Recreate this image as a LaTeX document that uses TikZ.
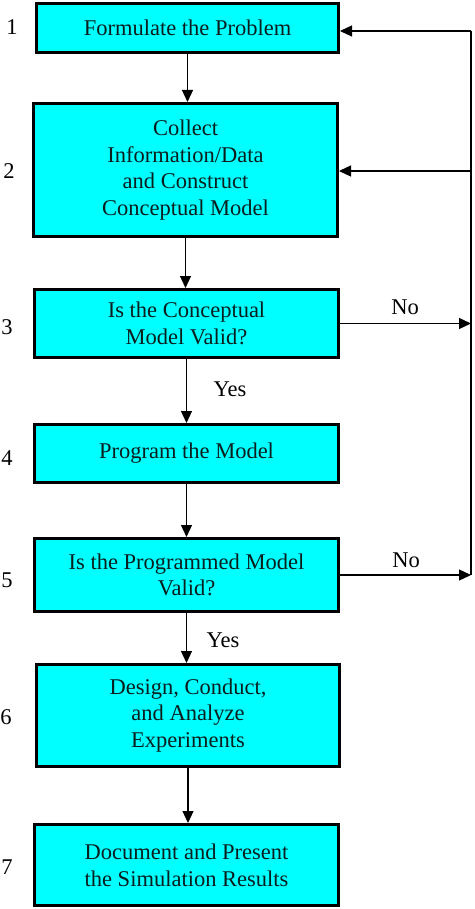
\documentclass[tikz,border=0pt]{standalone}
\usepackage{fontspec}
\setmainfont{Liberation Serif}
\usetikzlibrary{arrows.meta,calc}
\definecolor{boxcyan}{RGB}{0,255,255}
\definecolor{boxtext}{RGB}{10,30,30}
\begin{document}
\begin{tikzpicture}[x=1pt,y=-1pt,
  stepbox/.style={draw=black,line width=3pt,fill=boxcyan,inner sep=0pt,align=center,
    font=\rmfamily\fontsize{22.5}{26.6}\selectfont,text=boxtext},
  arr/.style={line width=1.2pt,-{Triangle[length=12pt,width=11pt]}},
  ln/.style={line width=1.2pt},
  lbl/.style={font=\rmfamily\fontsize{22.5}{26.6}\selectfont,inner sep=0pt}]
\useasboundingbox (0,0) rectangle (474,909);
\fill[white] (0,0) rectangle (474,909);
\node[stepbox,minimum width=302,minimum height=49] (b1) at (187.5,28) {Formulate the Problem};
\node[stepbox,minimum width=304,minimum height=133] (b2) at (185.5,170) {Collect\\Information/Data\\and Construct\\Conceptual Model};
\node[stepbox,minimum width=304,minimum height=68] (b3) at (186.5,323.5) {Is the Conceptual\\Model Valid?};
\node[stepbox,minimum width=304,minimum height=58] (b4) at (186.5,453.5) {Program the Model};
\node[stepbox,minimum width=304,minimum height=73] (b5) at (186.5,575) {Is the Programmed Model\\Valid?};
\node[stepbox,minimum width=303,minimum height=102] (b6) at (188,715.5) {Design, Conduct,\\and Analyze\\Experiments};
\node[stepbox,minimum width=304,minimum height=81] (b7) at (186.5,865) {Document and Present\\the Simulation Results};
% step numbers
\node[lbl] (n1) at (12,27) {1};
\node[lbl] (n2) at (9,171) {2};
\node[lbl] (n3) at (7,327) {3};
\node[lbl] (n4) at (7,458) {4};
\node[lbl] (n5) at (7,580) {5};
\node[lbl] (n6) at (6,717) {6};
\node[lbl] (n7) at (7,867) {7};
% forward arrows
\draw[arr] (b1.south) -- (b1.south |- b2.north);
\draw[arr] (b2.south) -- (b2.south |- b3.north);
\draw[arr] (b3.south) -- (b3.south |- b4.north);
\draw[arr] (b4.south) -- (b4.south |- b5.north);
\draw[arr] (b5.south) -- (b5.south |- b6.north);
\draw[arr] (b6.south) -- (b6.south |- b7.north);
\node[lbl] (y1) at (230,389) {Yes};
\node[lbl] (y2) at (223,640) {Yes};
% feedback
\coordinate (ftop) at (471,31);
\coordinate (fmid) at (471,171);
\coordinate (fbot) at (471,575);
\draw[ln] (ftop) -- (fbot);
\draw[arr] (b3.east) -- (b3.east -| ftop);
\draw[arr] (b5.east) -- (b5.east -| ftop);
\draw[arr] (ftop) -- (ftop -| b1.east);
\draw[arr] (fmid) -- (fmid -| b2.east);
\node[lbl] (no1) at (405,307) {No};
\node[lbl] (no2) at (406,560) {No};
\end{tikzpicture}
\end{document}
